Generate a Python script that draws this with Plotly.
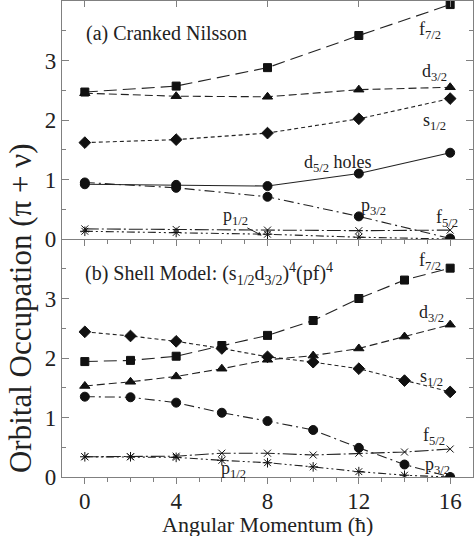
import plotly.graph_objects as go

# ---- data ----
J_a = [0, 4, 8, 12, 16]
a_f72 = [2.47, 2.57, 2.88, 3.42, 3.94]
a_d32 = [2.45, 2.40, 2.39, 2.51, 2.55]
a_s12 = [1.62, 1.67, 1.78, 2.02, 2.36]
a_d52 = [0.92, 0.91, 0.89, 1.10, 1.45]
a_p32 = [0.95, 0.86, 0.71, 0.38, 0.01]
a_f52 = [0.17, 0.16, 0.15, 0.14, 0.15]
a_p12 = [0.13, 0.11, 0.08, 0.03, 0.0]

J_b = [0, 2, 4, 6, 8, 10, 12, 14, 16]
b_f72 = [1.94, 1.96, 2.03, 2.21, 2.38, 2.63, 3.00, 3.31, 3.51]
b_d32 = [1.53, 1.60, 1.69, 1.82, 1.97, 2.04, 2.16, 2.36, 2.56]
b_s12 = [2.44, 2.37, 2.28, 2.16, 2.02, 1.93, 1.82, 1.62, 1.43]
b_p32 = [1.35, 1.34, 1.25, 1.08, 0.94, 0.79, 0.49, 0.21, 0.0]
b_f52 = [0.34, 0.34, 0.35, 0.40, 0.40, 0.37, 0.40, 0.42, 0.47]
b_p12 = [0.34, 0.34, 0.33, 0.28, 0.24, 0.17, 0.09, 0.03, 0.0]

x_ticks = [0, 4, 8, 12, 16]
y_ticks = [0, 1, 2, 3]

FONT = "Liberation Serif, Times New Roman, Times, serif"
LC = "#222222"
AX = "#808080"

styles = {
    "f72": dict(dash="13px,6px", symbol="square", size=8),
    "d32": dict(dash="8px,4px", symbol="triangle-up", size=9),
    "s12": dict(dash="4px,3px", symbol="diamond", size=9),
    "d52": dict(dash="solid", symbol="circle", size=9),
    "p32": dict(dash="10px,4px,2px,4px", symbol="circle", size=9),
    "f52": dict(dash="14px,3px,2px,3px", symbol="x-thin-open", size=7),
    "p12": dict(dash="8px,3px,2px,3px,2px,3px", symbol="asterisk-open", size=8),
}

fig = go.Figure()

def add(xs, ys, key, xa, ya):
    s = styles[key]
    fig.add_trace(go.Scatter(
        x=xs, y=ys, mode="lines+markers", xaxis=xa, yaxis=ya,
        line=dict(color=LC, width=1.1, dash=s["dash"]),
        marker=dict(symbol=s["symbol"], size=s["size"], color="#111111",
                    line=dict(color="#111111", width=1)),
        showlegend=False, hoverinfo="skip"))

for xs, ys, k in [(J_a, a_f72, "f72"), (J_a, a_d32, "d32"), (J_a, a_s12, "s12"),
                  (J_a, a_d52, "d52"), (J_a, a_p32, "p32"), (J_a, a_f52, "f52"),
                  (J_a, a_p12, "p12")]:
    add(xs, ys, k, "x2", "y2")

for xs, ys, k in [(J_b, b_f72, "f72"), (J_b, b_d32, "d32"), (J_b, b_s12, "s12"),
                  (J_b, b_p32, "p32"), (J_b, b_f52, "f52"), (J_b, b_p12, "p12")]:
    add(xs, ys, k, "x", "y")

# invisible trace to realize the overlay axis
fig.add_trace(go.Scatter(x=[None], y=[None], xaxis="x3", yaxis="y2",
                         showlegend=False, hoverinfo="skip"))

tickfont = dict(family=FONT, size=23, color="#222")

xbase = dict(range=[-1, 17], showgrid=False, zeroline=False,
             showline=True, linecolor=AX, linewidth=1.3,
             tickvals=x_ticks, ticklen=6, tickwidth=1.2, tickcolor=AX,
             minor=dict(tickvals=list(range(0, 17)), ticklen=4, tickwidth=1, tickcolor=AX))

ybase = dict(range=[0, 4], showgrid=False, zeroline=False,
             showline=True, linecolor=AX, linewidth=1.3, mirror="ticks",
             tickvals=y_ticks, ticks="inside", ticklen=7, tickwidth=1.2, tickcolor=AX,
             minor=dict(tickvals=[0.5, 1.5, 2.5, 3.5], ticks="inside", ticklen=4,
                        tickwidth=1, tickcolor=AX),
             tickfont=tickfont)

fig.update_layout(
    width=474, height=536,
    margin=dict(l=62, r=1, t=1, b=59),
    paper_bgcolor="white", plot_bgcolor="white",
    font=dict(family=FONT, color="#222"),
    xaxis=dict(**xbase, anchor="y", ticks="outside", mirror=False,
               tickfont=tickfont, ticklabelstandoff=-3),
    xaxis2=dict(**xbase, anchor="y2", matches="x", side="top", ticks="inside",
                mirror=True, showticklabels=False),
    xaxis3=dict(**{k: v for k, v in xbase.items() if k != "showline"}, showline=False,
                anchor="y2", overlaying="x2", side="bottom", ticks="outside",
                showticklabels=False),
    yaxis=dict(**ybase, domain=[0, 0.5], anchor="x"),
    yaxis2=dict(**ybase, domain=[0.5, 1], anchor="x2"),
)

ann = []
def txt(x, y, t, xa, ya, xanchor="center", size=18):
    ann.append(dict(x=x, y=y, xref=xa, yref=ya, text=t, showarrow=False,
                    xanchor=xanchor, yanchor="middle",
                    font=dict(family=FONT, size=size, color="#222")))

# panel (a)
txt(-0.05, 3.45, "(a) Cranked Nilsson", "x2", "y2", "left", 20)
txt(15.1, 3.5, "f<sub>7/2</sub>", "x2", "y2")
txt(15.3, 2.8, "d<sub>3/2</sub>", "x2", "y2")
txt(15.3, 1.98, "s<sub>1/2</sub>", "x2", "y2")
txt(11.1, 1.27, "d<sub>5/2</sub> holes", "x2", "y2")
txt(12.65, 0.55, "p<sub>3/2</sub>", "x2", "y2")
txt(15.85, 0.35, "f<sub>5/2</sub>", "x2", "y2")
txt(6.6, 0.38, "p<sub>1/2</sub>", "x2", "y2")
ann.append(dict(x=7.75, y=0.06, xref="x2", yref="y2", ax=7.05, ay=0.2,
                axref="x2", ayref="y2", text="", showarrow=True,
                arrowhead=2, arrowsize=0.8, arrowwidth=1, arrowcolor="#222"))

# panel (b)
txt(-0.1, 3.42, "(b) Shell Model: (s<sub>1/2</sub>d<sub>3/2</sub>)<sup>4</sup>(pf)<sup>4</sup>",
    "x", "y", "left", 20)
txt(15.1, 3.63, "f<sub>7/2</sub>", "x", "y")
txt(15.2, 2.75, "d<sub>3/2</sub>", "x", "y")
txt(15.2, 1.68, "s<sub>1/2</sub>", "x", "y")
txt(15.3, 0.68, "f<sub>5/2</sub>", "x", "y")
txt(15.45, 0.2, "p<sub>3/2</sub>", "x", "y")
txt(6.5, 0.12, "p<sub>1/2</sub>", "x", "y")

# x title
ann.append(dict(x=0.5, y=0, xref="paper", yref="paper", yshift=-47,
                text="Angular Momentum (ħ)", showarrow=False,
                xanchor="center", yanchor="middle",
                font=dict(family=FONT, size=22, color="#222")))

# y title
ann.append(dict(x=0, y=0.355, xref="paper", yref="paper", xshift=-42,
                text="Orbital Occupation (π + ν)", textangle=-90, showarrow=False,
                xanchor="center", yanchor="middle",
                font=dict(family=FONT, size=31, color="#222")))

fig.update_layout(annotations=ann)

fig.write_html("out.html")
